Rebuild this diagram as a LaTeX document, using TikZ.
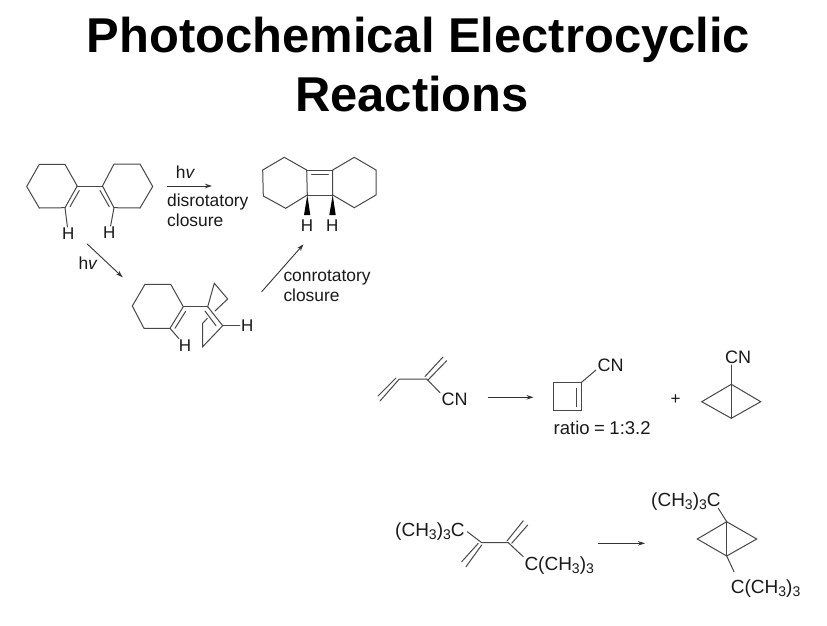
\documentclass[tikz,border=0pt]{standalone}
\usepackage{fontspec}
\setmainfont{Liberation Sans}
\usetikzlibrary{arrows.meta}
\newcommand{\lowthree}{\raisebox{-3pt}{\fontsize{14}{14}\selectfont 3}}

\begin{document}
\begin{tikzpicture}
	[x=1pt,y=-1pt,line cap=round,>={Stealth[length=7pt,width=4.5pt]},
	%Styles
	bond/.style={draw=black!72,line width=1pt},
	reaction arrow/.style={draw=black!80,line width=0.9pt,->},
	wedge/.style={fill=black},
	atom/.style={inner sep=1pt,text=black!90,font=\fontsize{17}{20}\selectfont},
	group/.style={inner sep=0pt,anchor=base west,text=black!90,font=\fontsize{18}{20}\selectfont},
	big group/.style={group,font=\fontsize{19}{20}\selectfont},
	information text/.style={inner sep=0pt,anchor=base west,text=black!90,font=\fontsize{17.4}{20}\selectfont},
	title text/.style={inner sep=0pt,anchor=base,font=\bfseries\fontsize{48.9}{58}\selectfont}
	]

	\useasboundingbox (0,0) rectangle (827,625);

	%The title
	\node[title text] (title1) at (418.5,52.7) {Photochemical Electrocyclic};
	\node[title text] (title2) at (412,111.7) {Reactions};

	%Diene
	\coordinate (a1) at (26.7,186.5);
	\coordinate (a2) at (39.3,164.3);
	\coordinate (a3) at (65,164.3);
	\coordinate (a4) at (77.2,186);
	\coordinate (a5) at (65,207.7);
	\coordinate (a6) at (39.3,208);
	\coordinate (b1) at (102.5,186);
	\coordinate (b2) at (114,164);
	\coordinate (b3) at (140,164);
	\coordinate (b4) at (152.7,186.5);
	\coordinate (b5) at (140,208);
	\coordinate (b6) at (114,207.7);
	\coordinate (a7) at (79.3,190.5);
	\coordinate (a8) at (70,206.7);
	\coordinate (b7) at (100,190.5);
	\coordinate (b8) at (109.3,206.7);
	\node[atom] (Ha) at (68.3,234) {H};
	\node[atom] (Hb) at (109.3,233) {H};
	\draw[bond] (a4) -- (a3) -- (a2) -- (a1) -- (a6) -- (a5) -- cycle;
	\draw[bond] (b1) -- (b2) -- (b3) -- (b4) -- (b5) -- (b6) -- cycle;
	\draw[bond] (a4) -- (b1);
	\draw[bond] (a7) -- (a8);
	\draw[bond] (b7) -- (b8);
	\draw[bond] (a5) -- (Ha);
	\draw[bond] (b6) -- (Hb);

	%Disrotatory arrow
	\coordinate (r1s) at (167.3,186);
	\coordinate (r1e) at (212,186);
	\draw[reaction arrow] (r1s) -- (r1e);
	\node[information text] (hv1) at (175.7,178.5) {h\textit{v}};
	\node[information text] (dis) at (167,206) {disrotatory};
	\node[information text] (clo1) at (167,226) {closure};

	%Tricycle
	\coordinate (c1) at (262.7,170);
	\coordinate (c2) at (284.3,157.3);
	\coordinate (c3) at (306.7,170);
	\coordinate (c4) at (307.3,195);
	\coordinate (c5) at (285.7,208.3);
	\coordinate (c6) at (263.3,196);
	\coordinate (d3) at (332.7,170);
	\coordinate (d2) at (354.3,157.3);
	\coordinate (d1) at (376,170);
	\coordinate (d6) at (376,195);
	\coordinate (d5) at (354.3,207.7);
	\coordinate (d4) at (332.7,195);
	\coordinate (c7) at (311.7,174.7);
	\coordinate (d7) at (328.3,174.7);
	\coordinate (w1) at (304,215);
	\coordinate (w2) at (310.3,215);
	\coordinate (w3) at (329.3,215);
	\coordinate (w4) at (335.7,215);
	\node[atom] (Hc) at (307,225.7) {H};
	\node[atom] (Hd) at (332.3,225.7) {H};
	\draw[bond] (c3) -- (c2) -- (c1) -- (c6) -- (c5) -- (c4) -- cycle;
	\draw[bond] (d3) -- (d2) -- (d1) -- (d6) -- (d5) -- (d4) -- cycle;
	\draw[bond] (c3) -- (d3);
	\draw[bond] (c4) -- (d4);
	\draw[bond] (c7) -- (d7);
	\fill[wedge] (c4) -- (w1) -- (w2) -- cycle;
	\fill[wedge] (d4) -- (w3) -- (w4) -- cycle;

	%Twisted diene
	\coordinate (r2s) at (87.3,244);
	\coordinate (r2e) at (122.7,277.3);
	\draw[reaction arrow] (r2s) -- (r2e);
	\node[information text] (hv2) at (78.3,269.3) {h\textit{v}};
	\coordinate (e1) at (132.3,306);
	\coordinate (e2) at (145,284.3);
	\coordinate (e3) at (170.7,284.3);
	\coordinate (e4) at (183.3,306.7);
	\coordinate (e5) at (170,328.3);
	\coordinate (e6) at (144,328.3);
	\coordinate (e7) at (185.5,311.5);
	\coordinate (e8) at (175,328.3);
	\coordinate (f1) at (207.7,306.7);
	\coordinate (f2) at (214.3,283.3);
	\coordinate (f3) at (227.7,299);
	\coordinate (f4) at (215,311);
	\coordinate (f5) at (222.7,325.7);
	\coordinate (f6) at (202.7,346.7);
	\coordinate (f7) at (202.7,323.3);
	\coordinate (f8) at (207.3,318.3);
	\coordinate (f9) at (205,311);
	\coordinate (f10) at (216,325.7);
	\node[atom] (He) at (185,345.7) {H};
	\node[atom] (Hf) at (247.3,325.7) {H};
	\draw[bond] (e4) -- (e3) -- (e2) -- (e1) -- (e6) -- (e5) -- cycle;
	\draw[bond] (e7) -- (e8);
	\draw[bond] (e4) -- (f1);
	\draw[bond] (f1) -- (f5);
	\draw[bond] (f9) -- (f10);
	\draw[bond] (f1) -- (f2) -- (f3) -- (f4);
	\draw[bond] (f5) -- (f6) -- (f7) -- (f8);
	\draw[bond] (e5) -- (He);
	\draw[bond] (f5) -- (Hf);

	%Conrotatory arrow
	\coordinate (r3s) at (261.7,291.7);
	\coordinate (r3e) at (303.5,244.3);
	\draw[reaction arrow] (r3s) -- (r3e);
	\node[information text] (con) at (283.3,281.7) {conrotatory};
	\node[information text] (clo2) at (283.3,301) {closure};

	%Second reaction
	\coordinate (g1) at (380,401);
	\coordinate (g2) at (399.3,379);
	\coordinate (g3) at (426.7,379);
	\coordinate (g4) at (378,396);
	\coordinate (g5) at (396,378);
	\coordinate (g6) at (425,376.5);
	\coordinate (g7) at (443,357);
	\coordinate (g8) at (428,380);
	\coordinate (g9) at (446.7,360.7);
	\coordinate (g10) at (440,392.7);
	\node[group] (CNa) at (441.5,405) {CN};
	\draw[bond] (g1) -- (g2) -- (g3);
	\draw[bond] (g4) -- (g5);
	\draw[bond] (g6) -- (g7);
	\draw[bond] (g8) -- (g9);
	\draw[bond] (g3) -- (g10);

	\coordinate (r4s) at (488.3,397.3);
	\coordinate (r4e) at (533.5,397.3);
	\draw[reaction arrow] (r4s) -- (r4e);

	\coordinate (h1) at (553.7,382.7);
	\coordinate (h2) at (581,382.7);
	\coordinate (h3) at (581,410);
	\coordinate (h4) at (553.7,410);
	\coordinate (h5) at (576.7,388.3);
	\coordinate (h6) at (576.7,406.7);
	\coordinate (h7) at (596,370);
	\node[group] (CNb) at (597.5,371.7) {CN};
	\draw[bond] (h1) -- (h2) -- (h3) -- (h4) -- cycle;
	\draw[bond] (h5) -- (h6);
	\draw[bond] (h2) -- (h7);
	\node[information text,font=\fontsize{18.5}{20}\selectfont] (ratio) at (553.5,434.3) {ratio\hspace{4.5pt}=\hspace{4.5pt}1:3.2};
	\node[atom] (plus) at (675.7,399.5) {+};

	\coordinate (i1) at (731.3,384.3);
	\coordinate (i2) at (701.7,401.7);
	\coordinate (i3) at (731.3,418.3);
	\coordinate (i4) at (760.7,401.7);
	\coordinate (i5) at (731.3,365);
	\node[group] (CNc) at (725,363.3) {CN};
	\draw[bond] (i1) -- (i2) -- (i3) -- (i4) -- cycle;
	\draw[bond] (i1) -- (i3);
	\draw[bond] (i1) -- (i5);

	%Third reaction
	\coordinate (j0) at (467.3,531.7);
	\coordinate (j1) at (481.7,542.7);
	\coordinate (j2) at (508.3,542.7);
	\coordinate (j3) at (461.7,561.7);
	\coordinate (j4) at (478.3,543.3);
	\coordinate (j5) at (466,566.7);
	\coordinate (j6) at (481.7,545);
	\coordinate (j7) at (507,541);
	\coordinate (j8) at (523.3,520.7);
	\coordinate (j9) at (511.7,543.3);
	\coordinate (j10) at (527.7,525);
	\coordinate (j11) at (523.3,556.7);
	\node[big group] (Buj) at (395,536) {(CH\lowthree)\lowthree C};
	\node[big group] (Buk) at (524.3,570.7) {C(CH\lowthree)\lowthree};
	\draw[bond] (j0) -- (j1) -- (j2) -- (j11);
	\draw[bond] (j3) -- (j4);
	\draw[bond] (j5) -- (j6);
	\draw[bond] (j7) -- (j8);
	\draw[bond] (j9) -- (j10);

	\coordinate (r5s) at (598.3,543.3);
	\coordinate (r5e) at (645,543.3);
	\draw[reaction arrow] (r5s) -- (r5e);

	\coordinate (k1) at (726.7,521.7);
	\coordinate (k2) at (697.3,539);
	\coordinate (k3) at (726.7,556);
	\coordinate (k4) at (756.7,539);
	\coordinate (k5) at (718.3,508.3);
	\coordinate (k6) at (734,571.7);
	\node[big group] (Bul) at (651,506) {(CH\lowthree)\lowthree C};
	\node[big group] (Bum) at (730.7,593) {C(CH\lowthree)\lowthree};
	\draw[bond] (k1) -- (k2) -- (k3) -- (k4) -- cycle;
	\draw[bond] (k1) -- (k3);
	\draw[bond] (k1) -- (k5);
	\draw[bond] (k3) -- (k6);
\end{tikzpicture}
\end{document}
